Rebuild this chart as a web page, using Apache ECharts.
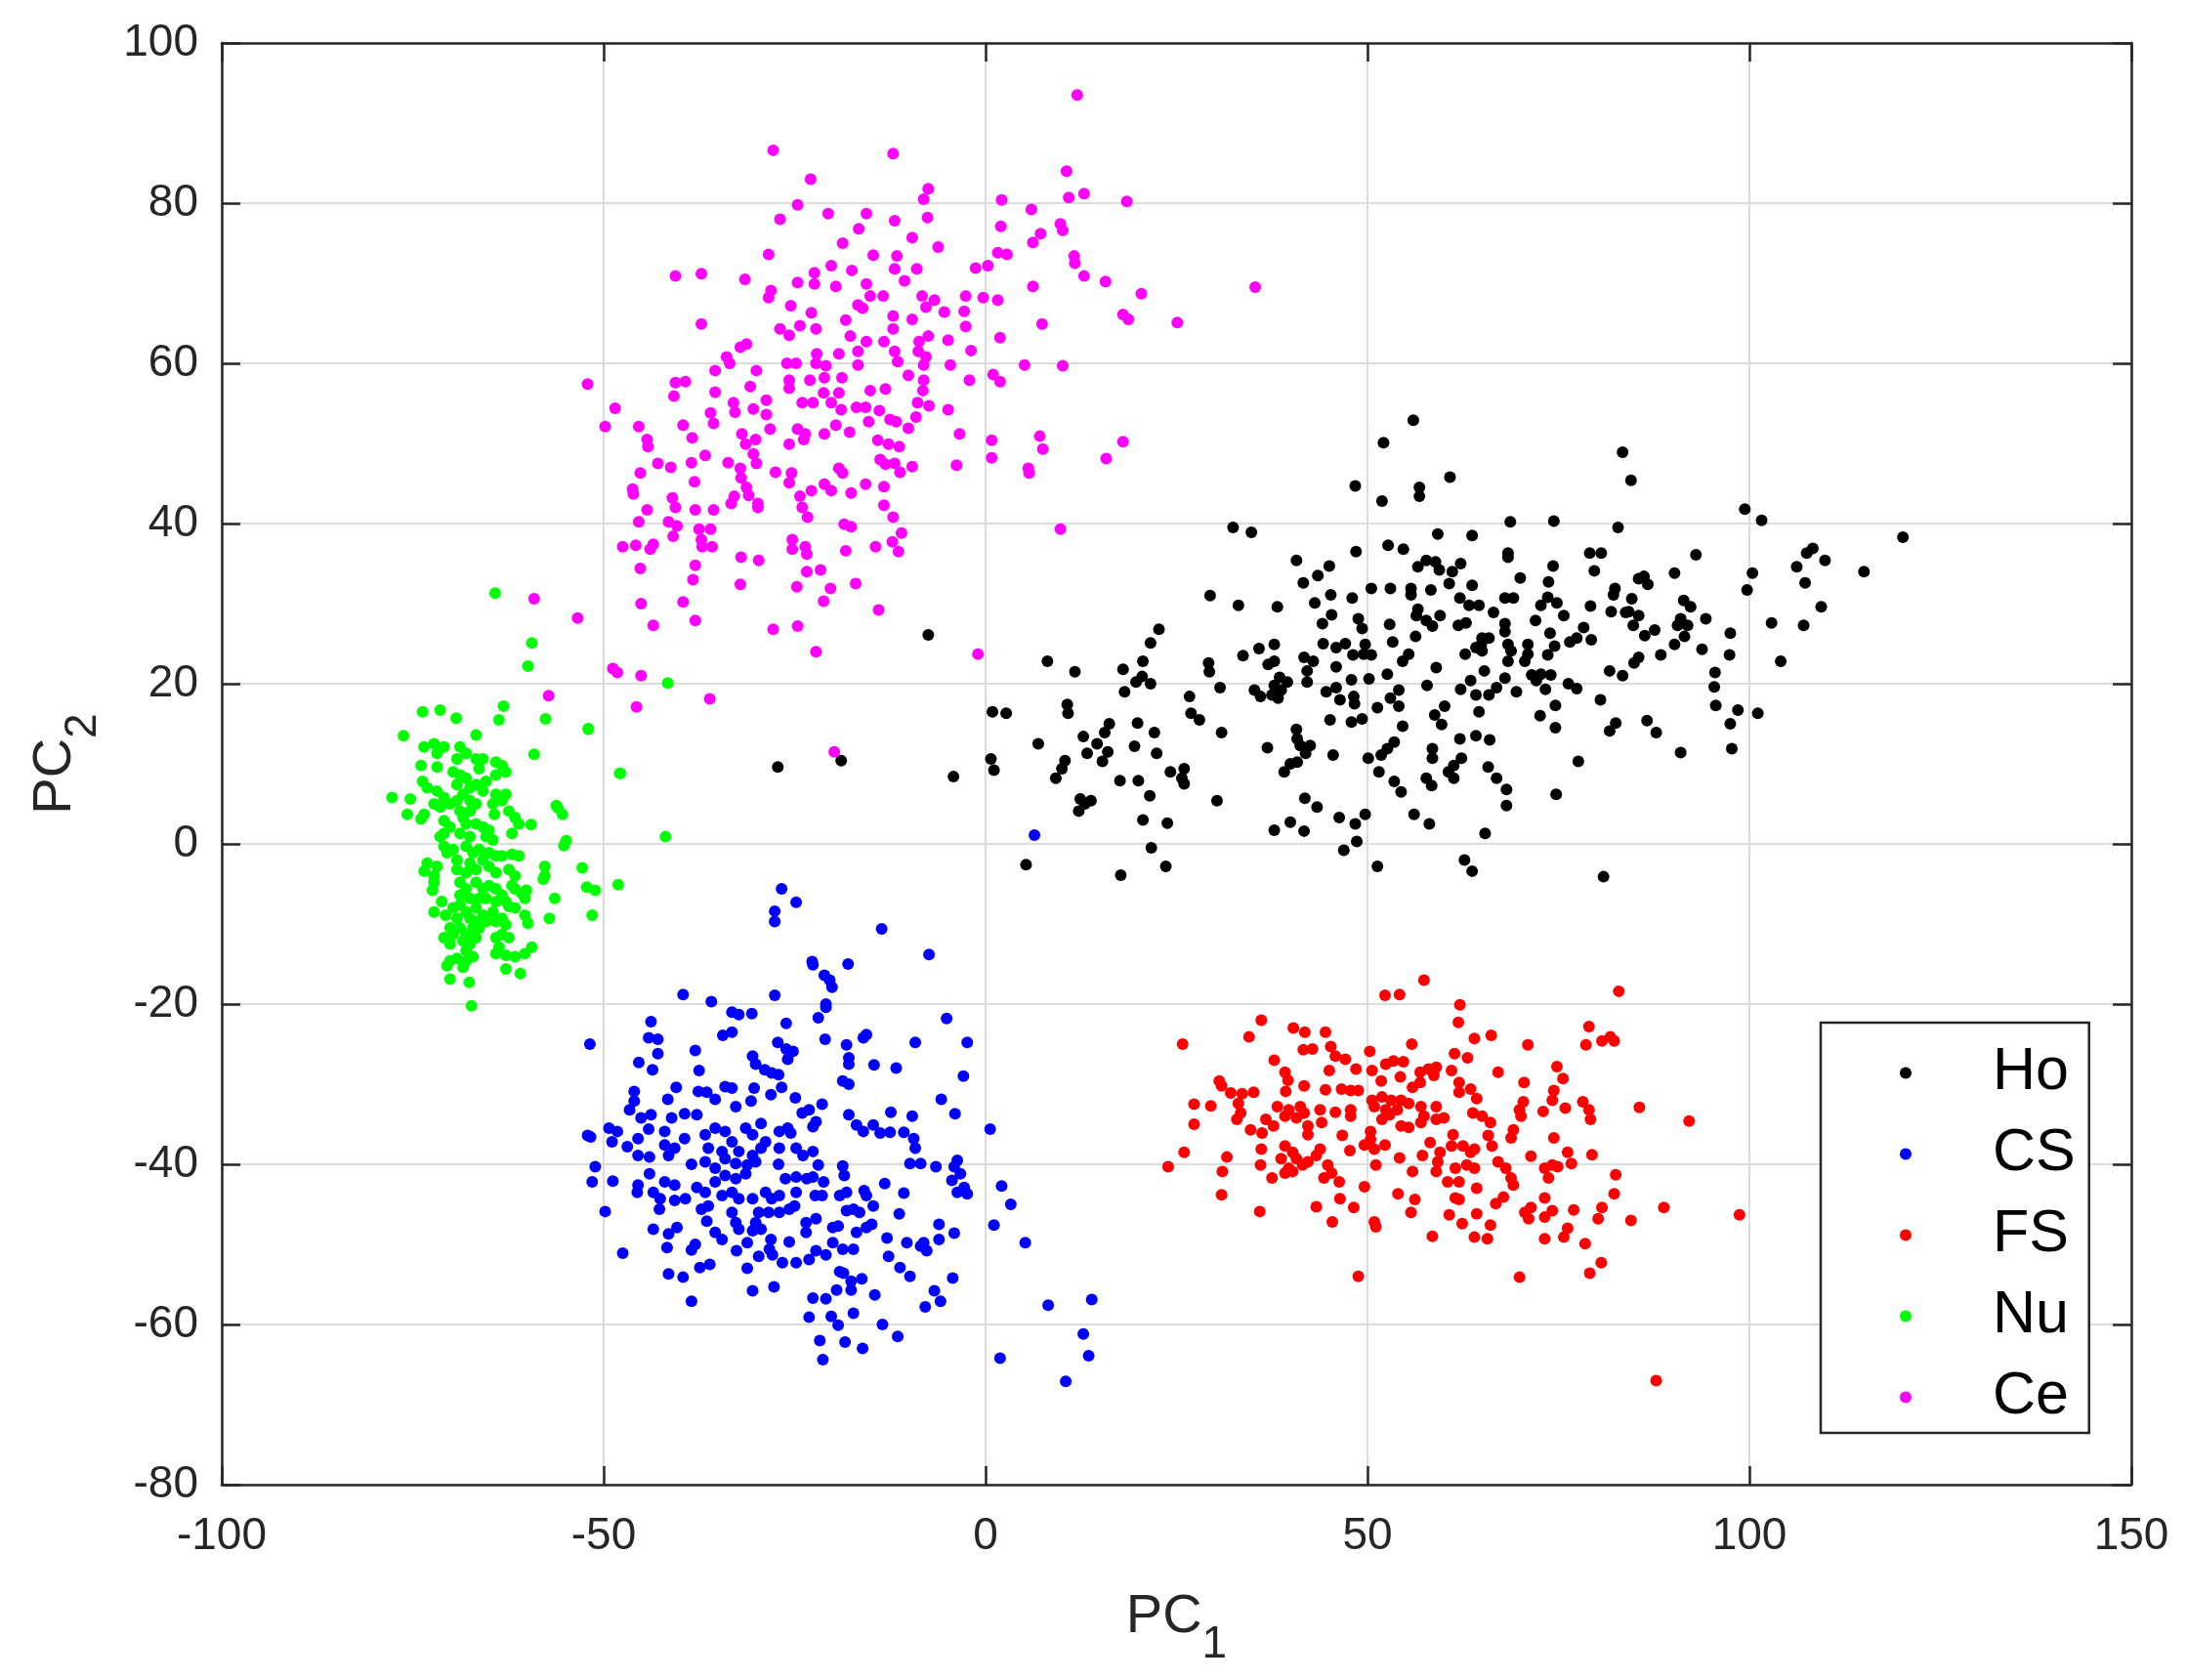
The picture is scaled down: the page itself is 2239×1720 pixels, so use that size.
<!DOCTYPE html>
<html>
<head>
<meta charset="utf-8">
<script src="https://cdn.jsdelivr.net/npm/echarts@6/dist/echarts.min.js"></script>
<style>
html,body{margin:0;padding:0;background:#fff;}
#chart{width:2239px;height:1720px;}
</style>
</head>
<body>
<div id="chart"></div>
<script>
var seriesNames = ['Ho','CS','FS','Nu','Ce'];
var seriesColors = ['#000000','#0000ff','#ff0000','#00ff00','#ff00ff'];
var xTicks = [-100,-50,0,50,100,150];
var yTicks = [-80,-60,-40,-20,0,20,40,60,80,100];

var hoData = [
[-7.5,26.1],[-27.2,9.6],[-18.9,10.4],[-4.2,8.4],
[56,52.9],[52.1,50.1],[60.8,45.8],[48.4,44.7],[51.9,42.8],[56.8,44.5],[56.8,43.4],[32.4,39.5],[34.8,38.9],[59.2,38.7],[48.5,36.5],[52.7,37.3],[54.7,36.8],[40.7,35.4],[45,34.7],[43.5,33.5],[41.6,32.6],[56.6,34.6],[57.7,35.4],[58.9,35.2],[59.4,34.2],[61.1,34],[62.2,35],[60.7,32.5],[29.4,31],[33.1,29.8],[38.2,29.6],[43.1,30.1],[45.2,31.1],[48,30.7],[50.5,31.9],[53,31.9],[55.7,31.9],[55.7,31.1],[58.3,31.7],[62.1,30.7],[45.3,28.6],[44.1,27.5],[48.8,28.1],[49.3,26.9],[52.9,27.4],[56.6,29.3],[56.4,28.5],[57.7,27.9],[58.5,27.2],[59.5,28.5],[61.9,27.3],[62.9,27.6],[22.7,26.8],[21.6,25.1],[53.3,25.2],[56.3,25.9],[44.2,25],[45.9,24.5],[47.1,25],[49.7,24.9],[48.1,23.6],[49.5,23.7],[50.5,23.6],[55.4,23.7],[54.6,22.8],[62.8,23.7],[8.1,22.8],[11.7,21.5],[18,21.8],[20.6,22.8],[20.5,20.9],[21.6,20],[19.7,20.2],[18.2,19],[29.2,22.6],[29.3,21.5],[33.7,23.5],[35.8,24.4],[37.8,24.9],[37,22.4],[37.8,22.8],[41.7,23.3],[42.9,22.8],[42.1,21.6],[45.9,22.1],[52.6,21.2],[59,22],[38.5,20.8],[39.5,20.2],[37.8,19.8],[38.7,19.2],[37.5,18.6],[38.3,18.2],[35.2,19.2],[36,18.4],[42.1,20.2],[47.9,20.5],[50.2,20.6],[57.8,19.8],[30.7,19.5],[26.7,18.4],[44.6,19],[45.9,19.5],[46.4,18],[48.2,18.4],[48.3,17.5],[51.3,17],[53,18.2],[54.1,19.2],[54.1,17.2],[60.1,17.2],[58.8,16.1],[62.2,19.3],[0.9,16.5],[2.7,16.3],[10.7,17.4],[10.8,16.3],[26.9,16.3],[28,15.5],[45.1,15.5],[47.9,15.2],[49.3,15.6],[54.6,14.7],[59.7,14.9],[19.9,15.1],[16.2,15],[15.6,13.9],[12.8,13.4],[14.6,12.5],[16,11.5],[13.3,11.3],[15.3,10.3],[6.9,12.5],[22.1,13.9],[30.9,13.9],[19.5,12.2],[22.4,11.3],[40.7,14.3],[40.8,13.1],[41.2,12.3],[42.5,12.3],[41.9,11.3],[36.9,12],[45.5,11.1],[53.5,12.7],[52.6,11.9],[51.8,11.1],[50.1,10.7],[58.5,11.9],[58.5,10.7],[62.1,13.1],[62.3,10.7],[61.3,9.8],[60.6,9],[61.3,8.2],[0.7,10.6],[1.1,9.2],[10.4,10.4],[10,9.4],[9.2,8.2],[12.4,5.6],[13,5],[13.8,5.4],[12.2,4.1],[17.6,7.9],[20,7.9],[24.2,9],[26,9.4],[25.7,8.2],[26,7.5],[21.5,6],[30.3,5.4],[20.6,3],[23.8,2.6],[21.7,-0.5],[23.6,-2.8],[17.7,-3.9],[5.3,-2.6],[39.1,9],[39.9,10],[40.8,10.2],[41.8,5.7],[43.4,4.6],[37.8,1.7],[39.9,2.7],[41.7,1.6],[46.3,3.3],[48.4,2.5],[49.7,3.7],[48.6,0.3],[46.9,-0.8],[51.3,-2.8],[51.5,9],[53.5,7.8],[54.4,6.5],[56.1,3.7],[58.1,2.5],[57.7,8.2],[58.4,7.3],
[83.4,48.9],[84.5,45.4],[99.4,41.8],[101.6,40.4],[120.1,38.3],[68.7,40.2],[74.4,40.3],[82.8,39.5],[63.7,38.5],[68.4,36.3],[68.4,35.8],[79.1,36.3],[80.6,36.3],[79.7,34.1],[74.3,34.7],[93,36.1],[90.2,33.8],[108.3,36.9],[107.5,36.3],[109.9,35.4],[106.2,34.6],[107.3,32.6],[115,34],[100.4,33.8],[99.7,31.7],[109.4,29.6],[102.9,27.6],[107.1,27.3],[104.1,22.8],[63.7,32.3],[70,33.2],[73.7,32.7],[68,30.7],[69.1,30.7],[73.6,30.8],[74.8,30.1],[75.7,28.5],[72.7,29.8],[72,27.9],[66.5,28.9],[63.3,29.8],[64.6,29.8],[68,27.5],[68,26.5],[65,25.7],[65.9,25.7],[64.2,24.5],[65,24.1],[64.9,24.9],[68.4,24.9],[68.8,24.1],[71,24.9],[71,23.7],[70.6,22.8],[73.9,26.3],[74.5,24.7],[73.6,23.6],[68.4,22.8],[65.3,21.6],[68,20.7],[63.5,20.4],[66.9,19.5],[65.9,18.6],[64.2,18.6],[64.6,16.5],[71.5,21.1],[72.7,21.2],[74,21.1],[72.1,20.4],[73.3,19.3],[69.5,19],[76.3,20],[77.4,19.4],[78.3,27],[77.4,25.7],[76.5,25.2],[79.3,25.5],[79.2,29.7],[81.9,29],[82.4,31.9],[82.2,31.1],[84.6,30.6],[84.2,29],[85.5,28.5],[84.8,27.3],[83.8,28.9],[85.5,33.1],[86.2,33.4],[86.7,32.4],[86.3,26],[87.6,26.7],[91.4,30.4],[92.3,29.6],[90.6,27.3],[91.9,27.3],[91.5,25.9],[90.2,24.9],[91,28.1],[94.3,28.1],[97.5,26.3],[97.4,23.6],[93.8,24.3],[88.4,23.6],[85.5,23.3],[84.9,22.6],[81.7,21.6],[83.4,21],[95.5,21.4],[95.4,19.6],[95.6,17.3],[98.5,16.7],[97.5,15],[101.1,16.3],[97.7,11.9],[80.5,18],[74.6,17.3],[72.6,16],[74.6,14.5],[82.5,15.1],[81.7,14.1],[86.6,15.4],[87.8,13.9],[91,11.4],[64.2,13.5],[66,13],[65.8,9.6],[66.9,8.2],[68.2,6.8],[68.2,4.8],[74.7,6.2],[77.6,10.3],[65.4,1.3],[63.7,-3.4],[62.7,-2],[80.9,-4.1]
];

var csData = [
[-26.7,-5.6],[-24.8,-7.3],[-27.6,-8.4],[-27.6,-9.7],[-13.6,-10.6],[-7.4,-13.8],[-22.7,-14.7],[-22.6,-15.1],[-18,-15],[-21.1,-16.4],[-20.4,-17],[-20.1,-17.9],[-39.6,-18.8],[-35.9,-19.7],[-27.6,-18.9],[-20.9,-20],[-20.9,-20.4],[-33.2,-21],[-32.3,-21.3],[-30.6,-21.2],[-21.9,-21.7],[-26.1,-22.4],[-5.1,-21.8],[-43.8,-22.2],[-34.4,-23.9],[-33.2,-23.5],[-51.8,-25],[-44.1,-24.2],[-42.9,-24.4],[-42.9,-26.2],[-38,-25.8],[-27.2,-24.8],[-26.1,-25.6],[-25.2,-25.9],[-25.9,-26.9],[-21,-24.4],[-18.2,-25.1],[-16,-24.2],[-15.6,-23.8],[-9.2,-24.8],[-2.4,-24.8],[-45.4,-27.3],[-43.6,-28.2],[-37.5,-28.3],[-30.5,-26.5],[-30.1,-27.5],[-28.9,-28.2],[-28,-28.6],[-27.1,-28.8],[-17.9,-26.7],[-17.9,-27.5],[-14.6,-27.6],[-11.7,-28],[-2.9,-29],[-18.7,-29.6],[-17.9,-30],
[-46,-30.9],[-46,-32.1],[-46.6,-33.2],[-40.5,-30.4],[-41.6,-31.9],[-37.6,-30.9],[-36.5,-31],[-34.1,-30.3],[-33.2,-30.5],[-30.3,-30.5],[-35.4,-31.9],[-32.7,-32.8],[-30.7,-32.1],[-28.1,-31.3],[-26.7,-30.4],[-24.9,-31.7],[-21.4,-32.5],[-24,-33.6],[-23.1,-33.2],[-17.9,-33.8],[-12.4,-33.5],[-9.6,-34],[-5.8,-31.9],[-4,-33.7],[0.6,-35.6],[-43.8,-33.8],[-45.1,-34.2],[-41.1,-34.2],[-39.4,-33.7],[-37.8,-33.8],[-51.7,-36.6],[-52.1,-36.4],[-49.3,-35.5],[-48.2,-35.9],[-48.9,-37.2],[-46.9,-37.8],[-45.5,-36.8],[-44.1,-35.6],[-42,-35.9],[-42,-37.6],[-39.4,-36.8],[-45.5,-38.9],[-44,-39.1],[-41.5,-38.9],[-40.7,-38],[-36.7,-36.3],[-35.4,-35.5],[-34.1,-35.9],[-36.3,-38],[-34.5,-38.4],[-33.2,-37.2],[-31.4,-35.5],[-30.5,-36.3],[-29.4,-34.9],[-32.3,-38.4],[-30.5,-38.9],[-29.4,-38],[-27,-35.9],[-25.9,-35.5],[-25.5,-36.1],[-28.8,-37.2],[-27,-38],[-24.8,-38],[-23.9,-38.9],[-22.6,-38.4],[-22.6,-35.3],[-22.2,-34.7],[-16.9,-35.1],[-16,-35.9],[-14.7,-35.1],[-13.8,-36.1],[-12.5,-36],[-10.7,-36],[-9.4,-36.8],[-9.2,-38],
[-38.5,-40],[-36.7,-39.7],[-35.4,-40.5],[-34.1,-39.3],[-32.7,-39.9],[-31.2,-40.1],[-30.1,-39.7],[-27.1,-40],[-21.9,-40.1],[-18.7,-40.2],[-18.5,-41.4],[-9.9,-39.9],[-8.5,-39.9],[-6.5,-40.3],[-3.7,-39.5],[-4.1,-40.3],[-3.3,-41.2],[-4.4,-42],[-51.1,-40.3],[-51.5,-42.2],[-48.8,-42.1],[-45.5,-42.6],[-45.6,-43.5],[-44,-41.2],[-43.5,-43.5],[-42,-42.2],[-40.7,-42.6],[-42.6,-44.3],[-42.7,-45.6],[-40.7,-44.5],[-39.3,-44.3],[-37.8,-42.9],[-36.7,-43.5],[-35.4,-42.2],[-37.2,-45.6],[-36.3,-45.2],[-36.5,-47.1],[-34.1,-41.4],[-32.7,-41.8],[-31.4,-41.2],[-34.5,-43.9],[-33.2,-43.5],[-32.3,-44.3],[-33.2,-46],[-32.7,-47.3],[-32.3,-48.1],[-30.5,-44.3],[-29.7,-46],[-30.1,-47.3],[-28.8,-43.5],[-28,-44.3],[-27,-43.9],[-28.4,-46],[-27,-46],[-25.7,-45.6],[-26.2,-41.8],[-24.8,-41.6],[-23.4,-41.8],[-22.6,-41.6],[-24.8,-43.5],[-25,-45.2],[-21.2,-42.2],[-21.4,-43.9],[-22.3,-43.9],[-19.1,-43.9],[-18.2,-43.5],[-15.9,-43.3],[-15.6,-43.9],[-13.2,-42.4],[-10.7,-43.6],[-3.7,-43.5],[-2.4,-43.7],[-2.8,-42.9],[2.1,-42.7],[3.3,-45],[-49.8,-45.9],
[-43.5,-48.1],[-41.5,-48.7],[-40.4,-47.9],[-41.7,-50.4],[-47.5,-51.1],[-38,-50],[-38.5,-50.7],[-35.4,-48.5],[-34.5,-49.4],[-32.6,-50.8],[-31.2,-49.8],[-30.5,-48.3],[-29.4,-48.1],[-28.1,-49.4],[-28.3,-50.6],[-25.7,-49.7],[-23.5,-47.3],[-23.5,-48.5],[-22.2,-46.8],[-20,-47.9],[-19.3,-47.7],[-20,-49.8],[-18.7,-50.6],[-17.3,-50.6],[-18.2,-45.8],[-17.3,-45.6],[-16.5,-46],[-14.7,-45.2],[-16.9,-48.5],[-15.6,-47.9],[-14.9,-47.5],[-11.3,-46.2],[-12.9,-49.2],[-12.7,-51.5],[-10.3,-49.8],[-8.5,-50.2],[-7.7,-50.8],[-8.1,-49.8],[-6.1,-47.5],[-6.1,-49.4],[-4.1,-48.6],[1.1,-47.6],[5.2,-49.8],[-29.7,-51.5],[-27.9,-51.3],[-26.6,-52.3],[-24.8,-52.3],[-23.1,-51.9],[-22.2,-50.8],[-20.9,-51.3],[-37.4,-52.9],[-36.1,-52.5],[-41.5,-53.7],[-39.6,-54.1],[-31.2,-53],[-38.5,-57.1],[-30.5,-55.8],[-27.7,-55.3],[-19.1,-53.4],[-18.6,-53.6],[-17.6,-54.6],[-16.2,-54.3],[-17.6,-55.7],[-19.5,-55.7],[-22.6,-56.7],[-20.9,-56.8],[-14.5,-56.3],[-11.2,-52.9],[-9.9,-54],[-4.3,-54.2],[-6.7,-55.8],[-5.9,-57.1],[-7.9,-57.8],[8.2,-57.6],[13.9,-56.9],[-23.1,-59.1],[-20.2,-59],[-19.3,-60.1],[-17.3,-58.6],[-13.5,-60],[-11.5,-61.5],[-21.7,-62],[-18.4,-62.2],[-16.1,-63],[-21.3,-64.4],[1.9,-64.2],[12.8,-61.2],[13.5,-63.9],[10.5,-67.1],[6.4,1.1]
];

var fsData = [
[57.4,-17],[52.3,-18.9],[54.2,-18.8],[82.9,-18.4],[62.1,-20.1],[61.9,-22.3],[36.1,-22],[40.3,-23],[41.8,-23.5],[44.5,-23.5],[34.5,-24.1],[25.8,-25],[64,-24.3],[66.2,-23.9],[71,-25.1],[79,-22.8],[78.6,-25.1],[80.7,-24.6],[81.8,-24.1],[82.3,-24.6],[55.8,-25],[41.6,-25.7],[42.8,-25.6],[45.2,-25.3],[45.8,-26.5],[47.1,-26.9],[50.3,-25.9],[37.8,-27],[61.4,-26.2],[63.1,-26.7],[52.4,-27.5],[53.4,-27.1],[54.7,-27.2],[48.5,-28.1],[45,-28.3],[39.2,-28.5],[39.6,-29.5],[50.6,-28.3],[51.8,-29.6],[54.3,-29.1],[56.9,-28.5],[58,-28.1],[59,-27.9],[58.7,-28.9],[56.9,-29.8],[55.9,-30.4],[61,-28.3],[67.1,-28.5],[74.8,-27.8],[75.6,-29.3],[74.4,-30.8],[70.5,-29.8],[30.6,-29.6],[30.9,-30.2],[32.1,-31.1],[33.6,-31.2],[35.1,-31],[41.7,-30.2],[44.5,-30.7],[46.6,-30.6],[47.8,-30.8],[48.8,-30.8],[39.3,-30.9],[62,-29.8],[62,-31],[63.5,-30.6],[64.3,-31.8],[70.4,-32.2],[74.2,-32],
[27.3,-32.5],[29.5,-32.7],[27.3,-35],[33.1,-32.4],[33.4,-33.6],[32.9,-34.4],[38.2,-32.8],[39.7,-33.2],[41.2,-32.8],[41.7,-33.6],[36.7,-34.4],[37.7,-35.2],[36.2,-36.1],[34.7,-35.7],[39.2,-34],[40.7,-34.2],[42.2,-35.2],[42.2,-36.3],[43.8,-33.2],[44,-34.8],[45.8,-33.5],[47.8,-33.2],[47.8,-34],[46.7,-36.4],[50.6,-32],[51.9,-31.6],[53.1,-32],[54.4,-32],[50.9,-32.8],[52.4,-33.2],[53.9,-33.2],[55.4,-32.4],[57,-32.8],[59,-32.8],[57.4,-34],[51.9,-34.4],[54.4,-35.2],[55.4,-35.4],[57,-34.8],[59,-34.4],[60,-34.2],[52.9,-33.8],[50.4,-35.9],[50.4,-36.9],[63.8,-33.6],[65,-34],[66.1,-34.8],[69.9,-33.2],[70.1,-34],[69.1,-35.7],[68.8,-36.7],[73,-33.4],[75.9,-33],[78.2,-32.2],[79,-33.2],[79.2,-34.4],[85.6,-32.9],[92.1,-34.6],[74.4,-36.7],[65.8,-36.4],[66.3,-37.7],[61.2,-36.3],[61,-37.7],[58.2,-37.3],[59.5,-38.5],[59.2,-39.7],[49.6,-37.6],[50.9,-38.1],[52.3,-37.6],[47.7,-38.3],[43.8,-38.1],[43.3,-38.9],[42.2,-39.7],[39.2,-37.7],[40.2,-38.5],[40.7,-39.3],[38.7,-39.3],[39.7,-40.5],[39.2,-41.1],[36.1,-38.1],[36,-40.1],[31.6,-39.1],[31,-40.9],[26,-38.5],[23.9,-40.3],[30.9,-43.8],[35.9,-45.9],[37.5,-41.7],[40.2,-40.9],[41.5,-40.1],
[44.8,-40.1],[45.3,-41.1],[44.3,-41.7],[46.3,-42.2],[49.6,-42.8],[51.1,-40.1],[54.2,-39.2],[55.9,-40.9],[57.2,-38.9],[59,-40.9],[60.5,-42.2],[61.5,-40.5],[62,-42.2],[63,-40.1],[64,-40.5],[63.5,-38.5],[62.5,-37.7],[64,-38.1],[67.1,-39.7],[68.1,-40.5],[68.8,-41.7],[69.1,-42.6],[71.4,-39],[73.2,-40.5],[73.7,-41.7],[74.2,-40.1],[74.9,-40.3],[76.2,-38.5],[76.7,-39.9],[79.4,-38.8],[82.5,-41.3],[82.3,-43.7],[64.3,-43],[54,-43.7],[56.2,-44.4],[55.7,-46],[61.5,-44.2],[62,-44.4],[43.3,-45.3],[46.4,-44.3],[48.2,-45.4],[45.4,-47.2],[50.9,-47.2],[51.1,-47.8],[58.5,-49],[60.7,-46.3],[62.4,-47.4],[64.3,-46.2],[66.1,-47.6],[64,-49.1],[65.7,-49.3],[66.8,-44.9],[67.8,-44.1],[70.6,-46],[71.4,-45.4],[71.1,-46.8],[73.2,-44.2],[74.2,-45.8],[73.2,-46.6],[77,-45.7],[73.2,-49.3],[75.7,-49.1],[76.2,-48],[80.7,-45.4],[80.2,-46.8],[84.5,-47],[88.8,-45.4],[98.7,-46.3],[78.5,-49.9],[80.6,-52.3],[79.1,-53.6],[69.9,-54.1],[48.8,-54],[87.8,-67]
];

var nuData = [
[-64.2,31.3],[-59.4,25.1],[-59.9,22.2],[-41.6,20.1],[-63.1,17.2],[-63.7,15.5],[-57.6,15.6],[-52,14.4],[-73.7,16.5],[-71.4,16.7],[-69.3,15.7],[-76.2,13.5],[-66.7,13.6],[-59.1,11.2],[-47.8,8.8],[-52,14.3],[-47.9,8.8],[-56,4.5],
[-73.5,12.1],[-72.2,12.5],[-70.9,12.1],[-71.8,11.3],[-68.8,12.1],[-68,11.3],[-69.2,10.6],[-66.7,10.6],[-65.8,10.6],[-66.3,9.4],[-64.1,10.2],[-63.3,9.8],[-62.8,9],[-64.1,8.6],[-73.9,9.8],[-71.8,9.6],[-73.7,7.8],[-73.1,7],[-69.7,9],[-68.8,8.6],[-69.2,7.4],[-68,8.2],[-67.5,7],[-66.7,7.4],[-65.4,7.8],[-65.8,6.6],[-77.7,5.8],[-75.3,5.6],[-71.8,6.6],[-70.9,5.8],[-72.2,5],[-71.4,4.6],[-70.1,5],[-69.2,5.4],[-68.4,6.2],[-67.5,5.4],[-66.7,5],[-67.5,4.1],[-68.8,4.1],[-64.1,6.2],[-62.8,6.2],[-63.3,5.4],[-64.5,5],[-75.7,3.7],[-73.9,3.1],[-73.5,3.7],[-62.4,4.1],[-61.6,3.3],[-61.1,2.5],[-62,1.3],[-64.3,3.7],[-59.5,2.4],[-56.2,4.8],[-55.4,3.7],[-70.9,2.9],[-70.1,2.1],[-70.9,1.3],[-71.4,0.9],[-68.4,3.3],[-68,2.5],[-66.7,2.5],[-65.8,2.1],[-65,1.7],[-68.8,1.3],[-67.5,0.9],[-65.4,0.9],[-64.5,0.5],[-54.9,0.4],[-55.2,-0.2],[-41.9,0.9],
[-70.9,-0.3],[-70.5,-1.1],[-69.7,-0.7],[-69.2,-2],[-68,-0.3],[-67.1,-1.1],[-66.3,-0.7],[-67.5,-2.4],[-65.8,-2],[-65,-1.1],[-64.1,-1.5],[-63.3,-1.5],[-62,-1.3],[-61.1,-1.5],[-73.1,-2.4],[-73.5,-3.4],[-71.8,-2.8],[-72.2,-4],[-69.2,-3.2],[-68,-3.6],[-66.7,-3.2],[-65,-2.8],[-64.1,-3.6],[-62.4,-3.2],[-61.6,-4],[-62,-5.2],[-57.7,-2.8],[-57.7,-4],[-57.9,-4.4],[-52.8,-3],[-52.2,-5.4],[-51.1,-5.8],[-48.1,-5.1],[-56.4,-6.8],[-57.1,-9.3],[-51.5,-8.9],[-72.2,-4.8],[-72.4,-5.8],[-68.8,-4.8],[-68,-5.6],[-68.8,-6.4],[-67.5,-6.8],[-66.7,-4.8],[-65.8,-5.6],[-65,-5.2],[-66.3,-6.8],[-65.4,-6.8],[-64.1,-5.6],[-63.3,-6.4],[-64.1,-7.2],[-62.8,-7.2],[-61.6,-5.6],[-60.7,-6.2],[-60.1,-5.8],[-60.3,-6.8],[-62.4,-7.8],[-61.6,-8],[-71.2,-7.2],[-72.2,-8.5],[-70.7,-8.9],[-69.7,-8],[-68.8,-7.6],[-68,-8.5],[-69.2,-9.3],[-67.5,-9.3],[-66.7,-8],[-65.8,-8.9],[-66.7,-9.7],[-65.4,-9.7],[-64.5,-8.5],[-64.1,-9.7],[-63.3,-9.3],[-62.8,-10.1],[-60.3,-8.9],[-59.9,-9.9],
[-70.1,-10.5],[-70.9,-11.7],[-69.7,-11.3],[-70.1,-12.5],[-68.8,-10.5],[-68,-11.3],[-68.4,-12.1],[-67.5,-12.5],[-66.7,-11.7],[-66.3,-10.5],[-67.1,-10.5],[-68,-13.3],[-64.1,-11.7],[-63.3,-11.3],[-62.4,-11.7],[-63.7,-12.9],[-64.1,-13.7],[-62.8,-13.9],[-61.6,-14.1],[-60.3,-13.7],[-59.4,-12.9],[-70.1,-14.6],[-69.2,-14.3],[-68,-14.6],[-67.1,-14.1],[-70.5,-15.2],[-68.4,-15.4],[-62.8,-15.6],[-60.9,-16.2],[-70.1,-16.9],[-67.6,-17.3],[-67.3,-20.2]
];

var ceData = [
[12,93.5],[-27.8,86.6],[-12.1,86.2],[-22.9,83],[10.6,84],[-7.5,81.8],[-8.1,80.5],[-24.6,79.8],[2.1,80.4],[10.9,80.7],[12.9,81.2],[18.5,80.2],[-26.9,78],[-20.6,78.7],[-15.6,78.7],[-11.9,77.8],[-7.6,78.2],[-16.6,76.8],[2,77.1],[6,79.2],[9.8,77.4],[10.1,76.6],[7.2,76.2],[6.2,75.1],[-9.6,75.7],[-18.7,75],[-6.2,74.5],[-28.4,73.6],[-14.7,73.5],[-11.6,73.4],[1.6,73.8],[2.8,73.6],[11.6,73.4],[11.7,72.5],[-40.6,70.9],[-37.2,71.2],[-31.5,70.5],[-20.2,72.2],[-17.5,71.6],[-22.4,71.3],[-22.4,69.9],[-24.6,70.1],[-19.6,69.6],[-15.6,69.9],[-11.9,71.8],[-10.6,70.3],[-9,71.8],[-1.3,71.9],[0.3,72.2],[12.9,70.9],[15.7,70.2],[20.4,68.7],[35.3,69.5],[6.2,69.6],[-28.4,68.2],[-28.1,69.1],[-25.5,67.2],[-16.7,67.3],[-16.1,66.9],[-15.1,68.4],[-13.4,68.4],[-8.3,68.4],[-6.7,67.9],[-5.4,66.4],[-7.8,67],[-2.6,68.4],[-0.3,68.2],[1.6,67.9],[-2.8,66.5],[-22.8,66.3],[-12.1,65.9],[-9.6,65.5],[18,66.1],[18.7,65.5],[25.1,65.1],[7.4,64.9],[-37.2,64.9],[-26.9,64.3],[-25.7,63.5],[-24.3,64.7],[-22.2,64.3],[-18.3,65.4],[-12.1,64.3],[-2.6,64.6],[1.9,63.2],[-17.7,63.4],[-15.6,62.7],[-13.3,62.7],[-11.9,61.5],[-11.5,60.2],[-8.7,62.7],[-7.5,63.4],[-4.9,62.9],[-1.9,61.6],[-8.8,61.5],[-7.8,60.8],[-31.3,62.4],[-32.1,62],[-33.9,60.8],[-33.5,60],[-22.1,61.2],[-19.2,61.2],[-16.7,61.5],[-26,60],[-24.8,60],[-22.2,60],[-20.9,59.7],[-16.7,59.8],[-8.1,59.8],[-4.6,59.8],[5.1,59.8],[10.1,59.7],[-35.4,59.1],[-30,59.1],[-40.6,57.6],[-39.3,57.7],[-52.1,57.4],[-30.8,57.1],[-25.7,57.9],[-23,57.9],[-21.1,58.2],[-18.8,58.2],[-10.1,58.5],[-8.1,57.9],[-2.1,57.9],[1,58.6],[1.9,57.7],
[-40.8,55.9],[-35.4,56.4],[-25.7,56.9],[-21.2,56.3],[-19.2,56.3],[-15.1,56.6],[-13.1,56.8],[-8.2,56.6],[-28.7,55.4],[-33,55.1],[-30.4,54.3],[-24,55.1],[-22.6,55.1],[-20.2,55.1],[-18.9,54.2],[-16.9,54.5],[-15.7,54.5],[-13.9,54.1],[-8.9,55.1],[-7.4,54.7],[-4.9,54.2],[-48.5,54.4],[-49.8,52.1],[-45.4,52.1],[-36,53.8],[-35.6,52.5],[-39.6,52.3],[-32.8,53.9],[-28.7,53.6],[-28.2,51.8],[-24.6,51.8],[-23.6,51.2],[-21.1,51.2],[-19.6,52.3],[-17.8,51.4],[-15.3,52.7],[-12.5,53],[-11.7,52.7],[-10.1,51.9],[-9.1,53.3],[-3.4,51.2],[-44.3,50.5],[-44.2,49.6],[-38.4,50.7],[-31.9,51.2],[-30.1,50.5],[-31.4,49.9],[-25.7,49.9],[-23.8,50.5],[-14.1,50.4],[-12.7,49.9],[-11.3,49.6],[0.8,50.4],[7.1,50.9],[7.5,49.3],[18,50.2],[-42.9,47.5],[-41.2,47],[-38.5,47.6],[-36.7,48.5],[-33.7,47.6],[-30.4,48.7],[-32.1,46.9],[-30,47.5],[-27.5,46.4],[-25.4,46.3],[-19.2,46.9],[-18.7,46.3],[-13.8,48],[-13.1,47.4],[-11.9,47.5],[-11.2,46.4],[-9.6,47.1],[-3.8,47.3],[0.8,48.2],[5.6,46.9],[5.7,46.3],[15.8,48.1],[-45.2,46.3],[-46.2,44.3],[-46.1,43.7],[-38.1,45.2],[-32,45.7],[-31.3,44.5],[-25.7,45.1],[-22.8,44.1],[-21.1,44.9],[-20.2,44.1],[-17.6,43.8],[-15.7,44.9],[-13.3,44.6],[-41,43.2],[-40.6,42],[-44.3,41.7],[-38,41.7],[-35.6,41.7],[-32.9,43.4],[-33.3,42.5],[-31,43.5],[-29.8,42.5],[-29.8,42],[-24.3,43.4],[-24,42],[-23.3,40.8],[-13.3,42.3],[-12.1,40.8],
[-45.4,40.2],[-41.5,40.2],[-40.4,39.7],[-37.5,39.3],[-36,39.3],[-40.9,38.4],[-37.2,38],[-35.8,37.1],[-37.1,37.1],[-18.5,39.9],[-17.6,39.6],[-11,38.8],[9.8,39.3],[-47.5,37.1],[-45.8,37.3],[-43.9,36.8],[-43.5,37.4],[-25.3,38],[-25.3,36.8],[-23.6,37.1],[-23.4,36.2],[-18.3,36.6],[-14.4,37.1],[-12.2,37.7],[-11.4,36.5],[-45.2,34.4],[-38,34.8],[-32,35.8],[-29.7,35.4],[-23.4,34],[-21.6,34.2],[-38.3,33],[-32.1,32.4],[-24.7,32.1],[-20.3,31.9],[-17,32.5],[-45.1,30],[-39.6,30.2],[-21.2,30.3],[-14,29.2],[-53.4,28.2],[-38,27.9],[-43.5,27.3],[-27.8,26.8],[-24.6,27.2],[-22.2,24],[-1,23.7],[-48.8,21.9],[-48.2,21.4],[-45.1,21],[-57.2,18.5],[-45.7,17.1],[-36.1,18.1],[-19.8,11.5],[-59.1,30.6]
];

var seriesData = [hoData, csData, fsData, nuData, ceData];

var FONT = '"Liberation Sans", Arial, Helvetica, sans-serif';
var AXIS_COLOR = '#262626';

var chart = echarts.init(document.getElementById('chart'), null, {width: 2239, height: 1720, renderer: 'canvas'});

var nameRich = {
  a: {fontSize: 56, fontFamily: FONT, color: AXIS_COLOR, padding: [0, 0, 23, 0], verticalAlign: 'top'},
  b: {fontSize: 46, fontFamily: FONT, color: AXIS_COLOR, verticalAlign: 'bottom'}
};

var option = {
  animation: false,
  backgroundColor: '#ffffff',
  grid: {left: 227, right: 57, top: 44, bottom: 200, containLabel: false},
  xAxis: [{
    type: 'value', min: xTicks[0], max: xTicks[xTicks.length - 1], interval: 50,
    position: 'bottom',
    name: '{a|PC}{b|1}', nameLocation: 'middle', nameGap: 108,
    nameTextStyle: {rich: nameRich},
    axisLine: {show: true, onZero: false, lineStyle: {color: AXIS_COLOR, width: 2.5}},
    axisTick: {show: true, inside: true, length: 19, lineStyle: {color: AXIS_COLOR, width: 2.5}},
    axisLabel: {fontSize: 46, fontFamily: FONT, color: AXIS_COLOR, margin: 30},
    splitLine: {show: true, lineStyle: {color: '#dcdcdc', width: 2}}
  }, {
    type: 'value', min: xTicks[0], max: xTicks[xTicks.length - 1], interval: 50,
    position: 'top',
    axisLine: {show: true, onZero: false, lineStyle: {color: AXIS_COLOR, width: 2.5}},
    axisTick: {show: true, inside: true, length: 19, lineStyle: {color: AXIS_COLOR, width: 2.5}},
    axisLabel: {show: false},
    splitLine: {show: false}
  }],
  yAxis: [{
    type: 'value', min: yTicks[0], max: yTicks[yTicks.length - 1], interval: 20,
    position: 'left',
    name: '{a|PC}{b|2}', nameLocation: 'middle', nameGap: 119, nameRotate: 90,
    nameTextStyle: {rich: nameRich},
    axisLine: {show: true, onZero: false, lineStyle: {color: AXIS_COLOR, width: 2.5}},
    axisTick: {show: true, inside: true, length: 19, lineStyle: {color: AXIS_COLOR, width: 2.5}},
    axisLabel: {fontSize: 46, fontFamily: FONT, color: AXIS_COLOR, margin: 24},
    splitLine: {show: true, lineStyle: {color: '#dcdcdc', width: 2}}
  }, {
    type: 'value', min: yTicks[0], max: yTicks[yTicks.length - 1], interval: 20,
    position: 'right',
    axisLine: {show: true, onZero: false, lineStyle: {color: AXIS_COLOR, width: 2.5}},
    axisTick: {show: true, inside: true, length: 19, lineStyle: {color: AXIS_COLOR, width: 2.5}},
    axisLabel: {show: false},
    splitLine: {show: false}
  }],
  legend: {
    orient: 'vertical',
    left: 1864, top: 1047,
    padding: [21, 14, 6, 81],
    itemWidth: 12, itemHeight: 12, itemGap: 22,
    icon: 'circle',
    borderColor: AXIS_COLOR, borderWidth: 2.5,
    backgroundColor: '#ffffff',
    formatter: '{t|{name}}',
    textStyle: {
      fontSize: 61, fontFamily: FONT, color: '#000000',
      rich: {t: {fontSize: 61, fontFamily: FONT, color: '#000000', padding: [0, 0, 0, 78]}}
    },
    data: seriesNames
  },
  series: seriesNames.map(function (name, i) {
    return {
      name: name, type: 'scatter', xAxisIndex: 0, yAxisIndex: 0,
      symbol: 'circle', symbolSize: 12,
      itemStyle: {color: seriesColors[i], opacity: 1},
      emphasis: {disabled: true},
      data: seriesData[i]
    };
  })
};
chart.setOption(option);
</script>
</body>
</html>
